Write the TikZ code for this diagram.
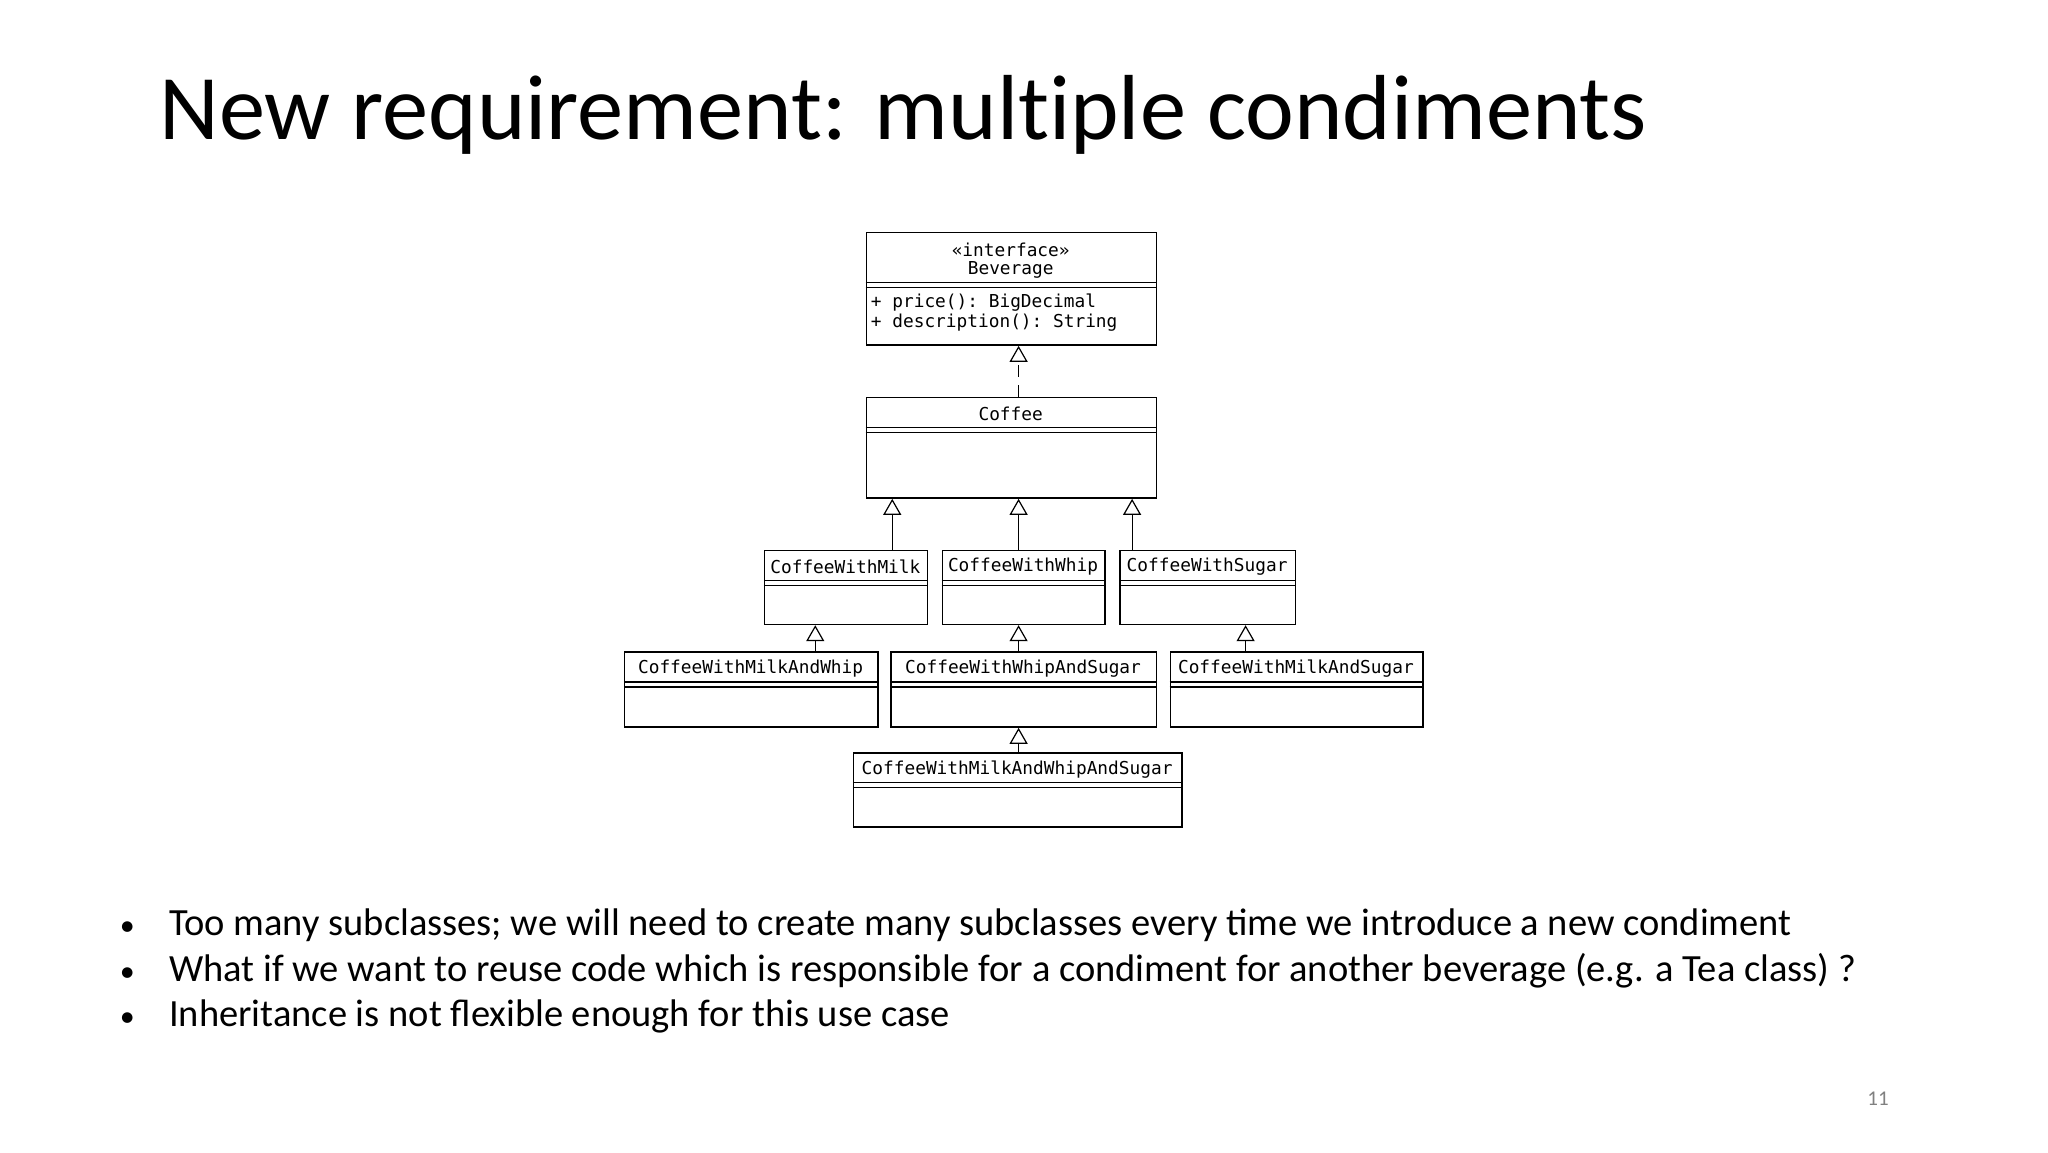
\documentclass[tikz,border=0pt]{standalone}
\usepackage{fontspec}
\setmainfont{Carlito}
\setmonofont{DejaVu Sans Mono}
\usetikzlibrary{arrows.meta}
\tikzset{
  box/.style={draw, line width=0.7pt, anchor=north west, inner sep=0pt},
  cls/.style={font=\ttfamily\fontsize{8.9}{10}\selectfont, inner sep=0pt},
  gen/.style={line width=0.6pt, -{Triangle[open, length=8pt, width=9pt]}},
  real/.style={gen, dash pattern=on 6pt off 4pt},
  bul/.style={anchor=base west, font=\fontsize{19.25}{22}\selectfont, inner sep=0pt},
  dot/.style={anchor=base west, font=\fontsize{15}{22}\selectfont, inner sep=0pt}
}
\newcommand{\umlbox}[7]{%
  \node[box, minimum width={(#4-#2)*0.4935pt}, minimum height={(#5-#3)*0.4935pt}] (#1) at (#2,#3) {};
  \draw[line width=0.6pt] (#2,#6) -- (#4,#6) (#2,#6+5) -- (#4,#6+5);
  \node[cls] (#1t) at ({(#2+#4)/2},{(#3+#6)/2+2}) {#7};
}
\begin{document}
\begin{tikzpicture}[x=0.4935pt,y=-0.4935pt]
\useasboundingbox (0pt,0pt) rectangle (1024pt,-576pt);
\node[anchor=base west, font=\fontsize{46.2}{56}\selectfont\addfontfeature{Ligatures=NoCommon}, inner sep=0pt] (title) at (161,141) {New requirement: multiple condiments};

\node[box, minimum width={294*0.4935pt}, minimum height={114*0.4935pt}] (bev) at (877,235) {};
\draw[line width=0.6pt] (877,286) -- (1171,286) (877,291) -- (1171,291);
\node[cls] (bev1) at (1024,253) {«interface»};
\node[cls] (bev2) at (1024,273) {Beverage};
\node[cls, anchor=west] (bev3) at (882,307) {+ price(): BigDecimal};
\node[cls, anchor=west] (bev4) at (882,327) {+ description(): String};

\umlbox{coffee}{877}{402}{1171}{504}{433}{Coffee}
\umlbox{milk}{774}{557}{939}{632}{588}{CoffeeWithMilk}
\umlbox{whip}{954}{557}{1119}{632}{588}{CoffeeWithWhip}
\umlbox{sugar}{1134}{557}{1312}{632}{588}{CoffeeWithSugar}
\umlbox{mw}{632}{660}{889}{736}{691}{CoffeeWithMilkAndWhip}
\umlbox{ws}{902}{660}{1171}{736}{691}{CoffeeWithWhipAndSugar}
\umlbox{ms}{1185}{660}{1441}{736}{691}{CoffeeWithMilkAndSugar}
\umlbox{mws}{864}{762}{1197}{837}{793}{CoffeeWithMilkAndWhipAndSugar}

\coordinate (xa) at (1032,0);
\coordinate (xm) at (904,0);
\coordinate (xs) at (1147,0);
\coordinate (xmw) at (826,0);
\coordinate (xms) at (1262,0);
\draw[real] (coffee.north -| xa) -- (bev.south -| xa);
\draw[gen] (milk.north -| xm) -- (coffee.south -| xm);
\draw[gen] (whip.north -| xa) -- (coffee.south -| xa);
\draw[gen] (sugar.north -| xs) -- (coffee.south -| xs);
\draw[gen] (mw.north -| xmw) -- (milk.south -| xmw);
\draw[gen] (ws.north -| xa) -- (whip.south -| xa);
\draw[gen] (ms.north -| xms) -- (sugar.south -| xms);
\draw[gen] (mws.north -| xa) -- (ws.south -| xa);

\node[dot] (b1d) at (121,948) {•};
\node[bul] (b1) at (171,948) {Too many subclasses; we will need to create many subclasses every time we introduce a new condiment};
\node[dot] (b2d) at (121,994) {•};
\node[bul] (b2) at (171,994) {What if we want to reuse code which is responsible for a condiment for another beverage (e.g. a Tea class) ?};
\node[dot] (b3d) at (121,1040) {•};
\node[bul] (b3) at (171,1040) {Inheritance is not flexible enough for this use case};
\node[anchor=base east, font=\fontsize{10.5}{12}\selectfont, text=gray, inner sep=0pt] (pg) at (1914,1120) {11};
\end{tikzpicture}
\end{document}
